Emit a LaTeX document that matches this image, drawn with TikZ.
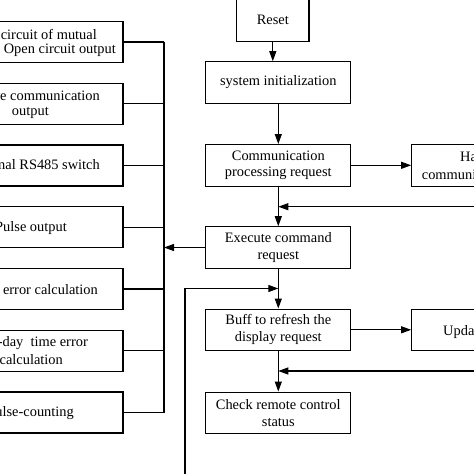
\documentclass[tikz,border=0pt]{standalone}
\usepackage{fontspec}
\setmainfont{Liberation Serif}
\usetikzlibrary{arrows.meta}
\begin{document}
\begin{tikzpicture}[x=1pt,y=-1pt,
  box/.style={draw, line width=1.1pt, minimum width=145pt, minimum height=41.5pt, inner sep=0pt, align=center, font=\fontsize{14.4}{16.7}\selectfont},
  lbox/.style={draw, line width=1.1pt, minimum width=190pt, minimum height=41pt, inner sep=0pt},
  txt/.style={inner sep=0pt, font=\fontsize{14.4}{16.7}\selectfont},
  conn/.style={line width=1.1pt},
  arr/.style={line width=1.1pt, -{Triangle[length=10pt,width=7pt]}}]
\useasboundingbox (0,0) rectangle (474,474);
% main column
\node[box, minimum width=72.3pt, minimum height=44pt] (reset) at (272.8,19.7) {Reset};
\node[box] (init) at (278.3,82.5) {system initialization};
\node[box] (comm) at (278.3,165.3) {Communication\\processing request};
\node[box] (exec) at (278.3,247.5) {Execute command\\request};
\node[box] (buff) at (278.3,329.8) {Buff to refresh the\\display request};
\node[box] (check) at (278.3,412.8) {Check remote control\\status};
% right boxes
\node[box] (hand) at (484.2,165.3) {};
\node[box] (upd) at (484.2,329.8) {};
\node[txt, anchor=west] (handt1) at (460,156.7) {Handle};
\node[txt, anchor=west] (handt2) at (421.7,175) {communication};
\node[txt, anchor=west] (updt) at (443,331.7) {Update display};
% left boxes
\foreach \i/\y in {1/42,2/103.75,3/165.5,4/227.25,5/289,6/350.75,7/412.5}{
  \node[lbox] (l\i) at (28,\y) {};
  \coordinate (b\i) at (164,\y);
}
\node[txt, anchor=east] (t1a) at (97,34) {Short circuit of mutual};
\node[txt, anchor=east] (t1b) at (116,50.7) {Open circuit output};
\node[txt, anchor=east] (t2a) at (100,95.7) {Carrier wave communication};
\node[txt, anchor=east] (t2b) at (49,113.3) {output};
\node[txt, anchor=east] (t3) at (100,165) {External RS485 switch};
\node[txt, anchor=east] (t4) at (67,227.7) {Pulse output};
\node[txt, anchor=east] (t5) at (98,289.3) {error calculation};
\node[txt, anchor=east] (t6a) at (88,343.3) {One-day\ \ time error};
\node[txt, anchor=east] (t6b) at (63,360) {calculation};
\node[txt, anchor=east] (t7) at (74,412.7) {Pulse-counting};
% bus
\foreach \i in {1,...,7}{\draw[conn] (l\i.east) -- (b\i);}
\draw[conn] (b1) -- (b7);
\draw[arr] (exec.west) -- (exec.west -| b1);
% main arrows
\draw[arr] (reset.south) -- (reset.south |- init.north);
\draw[arr] (init) -- (comm);
\draw[arr] (comm) -- (exec);
\draw[arr] (exec) -- (buff);
\draw[arr] (buff) -- (check);
\draw[arr] (comm.east) -- (hand.west);
\draw[arr] (buff.east) -- (upd.west);
% feedback lines
\coordinate (fr1) at (480,206.7);
\coordinate (fr2) at (480,371);
\draw[arr] (fr1) -- (fr1 -| comm.south);
\draw[arr] (fr2) -- (fr2 -| buff.south);
\coordinate (fl0) at (185,480);
\coordinate (fl1) at (185,288.5);
\draw[arr] (fl0) -- (fl1) -- (fl1 -| exec.south);
\end{tikzpicture}
\end{document}
